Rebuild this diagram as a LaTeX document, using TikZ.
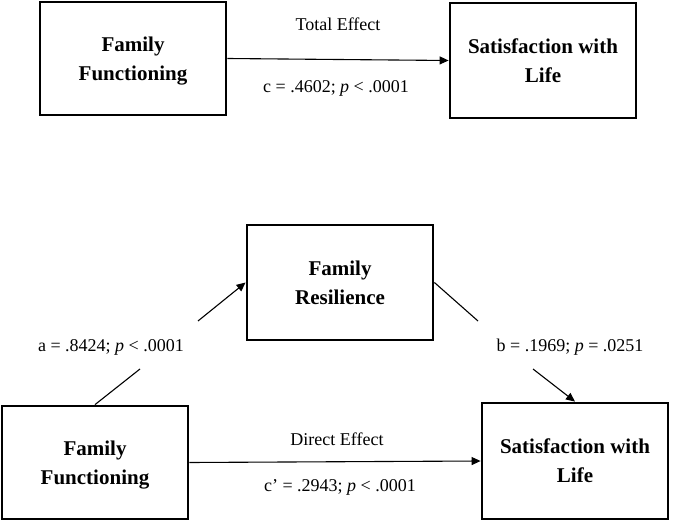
\documentclass[tikz,border=0pt]{standalone}
\usepackage{fontspec}
\setmainfont{Liberation Serif}
\usetikzlibrary{arrows.meta}
\begin{document}
\begin{tikzpicture}[x=1pt,y=-1pt,
  varbox/.style={draw, line width=2.8pt, minimum width=186pt, align=center,
    font=\fontsize{21}{29}\selectfont\bfseries, inner sep=0pt, text depth=0pt},
  lbl/.style={font=\fontsize{18}{22}\selectfont, inner sep=0pt},
  arr/.style={line width=1.1pt, -{Triangle[length=9pt,width=8pt]}},
  seg/.style={line width=1.1pt}]
\useasboundingbox (0,0) rectangle (685,521);
% top model
\node[varbox, minimum height=113pt] (ff1) at (133,58.5) {Family\\Functioning};
\node[varbox, minimum height=115pt] (swl1) at (543,60.5) {Satisfaction with\\Life};
\draw[arr] (ff1.east) -- (swl1.west);
\node[lbl] (te) at (338,24) {Total Effect};
\node[lbl] (c) at (336,88) {c = .4602; \textit{p} < .0001};
% bottom model
\node[varbox, minimum height=115pt] (fr) at (340,282.5) {Family\\Resilience};
\node[varbox, minimum height=113pt] (ff2) at (95,462.5) {Family\\Functioning};
\node[varbox, minimum height=116pt] (swl2) at (575,461) {Satisfaction with\\Life};
\draw[arr] (ff2.east) -- (swl2.west);
\node[lbl] (de) at (337,439) {Direct Effect};
\node[lbl] (cp) at (340,487) {c’ = .2943; \textit{p} < .0001};
\node[lbl] (a) at (111,347) {a = .8424; \textit{p} < .0001};
\node[lbl] (b) at (570,347) {b = .1969; \textit{p} = .0251};
\coordinate (a2) at (140,369);
\coordinate (a3) at (198,321);
\coordinate (b1) at (478,321);
\coordinate (b2) at (533,369);
\draw[seg] (ff2.north) -- (a2);
\draw[arr] (a3) -- (fr.west);
\draw[seg] (fr.east) -- (b1);
\draw[arr] (b2) -- (swl2.north);
\end{tikzpicture}
\end{document}
